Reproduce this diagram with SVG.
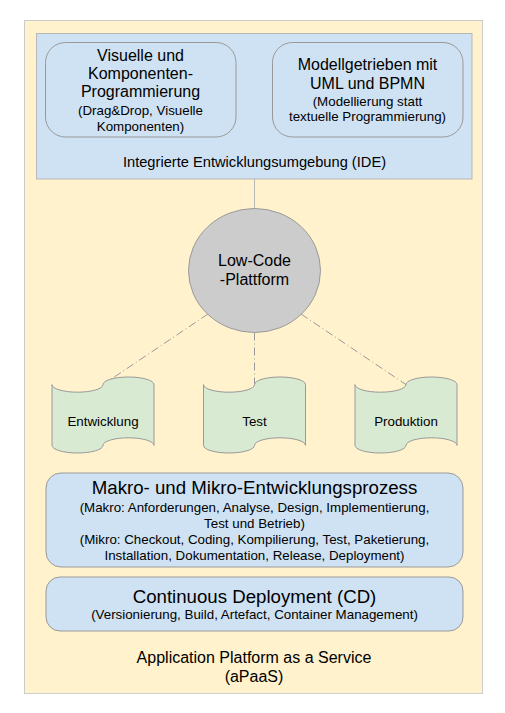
<svg xmlns="http://www.w3.org/2000/svg" width="505" height="713" viewBox="0 0 505 713">
<style>
text{font-family:"Liberation Sans",Arial,sans-serif;fill:#000;text-anchor:middle}
.s16{font-size:16px}
.s13{font-size:13.33px}
.s14{font-size:14.67px}
.s18{font-size:18.67px}
.round{fill:#cfe2f3;stroke:#999999;stroke-width:1}
.doc{fill:#d9ead3;stroke:#999999;stroke-width:1}
.conn{stroke:#999999;stroke-width:1;fill:none;stroke-dasharray:8 3 1 3}
</style>
<rect width="505" height="713" fill="#ffffff"/>
<g id="apaas">
<rect x="24.5" y="20.5" width="458" height="673" fill="#fff2cc" stroke="#cccccc"/>
<text class="s16" x="254" y="663">Application Platform as a Service</text>
<text class="s16" x="254" y="682">(aPaaS)</text>
</g>
<g id="ide">
<rect x="36.5" y="33.5" width="435.5" height="145.5" fill="#cfe2f3" stroke="#b7b7b7"/>
<text class="s14" x="254.5" y="167">Integrierte Entwicklungsumgebung (IDE)</text>
</g>
<g id="visuell">
<rect class="round" x="45.5" y="42.5" width="190.5" height="94.5" rx="20"/>
<text class="s16" x="140.5" y="61">Visuelle und</text>
<text class="s16" x="140.5" y="79">Komponenten-</text>
<text class="s16" x="140.5" y="97">Programmierung</text>
<text class="s13" x="140.5" y="115">(Drag&amp;Drop, Visuelle</text>
<text class="s13" x="140.5" y="131">Komponenten)</text>
</g>
<g id="modell">
<rect class="round" x="272.5" y="42.5" width="190.5" height="94.5" rx="20"/>
<text class="s16" x="367.5" y="70">Modellgetrieben mit</text>
<text class="s16" x="367.5" y="89">UML und BPMN</text>
<text class="s13" x="367.5" y="106">(Modellierung statt</text>
<text class="s13" x="367.5" y="121">textuelle Programmierung)</text>
</g>
<g id="connectors">
<line x1="254.5" y1="179" x2="254.5" y2="208.5" stroke="#b7b7b7" stroke-width="1"/>
<line class="conn" x1="208" y1="314" x2="103" y2="384.6"/>
<line class="conn" x1="254.5" y1="332.5" x2="254.5" y2="384.6"/>
<line class="conn" x1="301" y1="314" x2="406" y2="384.6"/>
</g>
<g id="lowcode">
<ellipse cx="254.5" cy="270.5" rx="66" ry="62" fill="#cccccc" stroke="#999999"/>
<text class="s16" x="254.5" y="266">Low-Code</text>
<text class="s16" x="254.5" y="285">-Plattform</text>
</g>
<g id="entwicklung">
<path class="doc" d="M52,384.6 A25.5,7.6 0 0 0 103,384.6 A25.5,7.6 0 0 1 154,384.6 L154,445.4 A25.5,7.6 0 0 0 103,445.4 A25.5,7.6 0 0 1 52,445.4 Z"/>
<text class="s13" x="103" y="426">Entwicklung</text>
</g>
<g id="test">
<path class="doc" d="M203.5,384.6 A25.5,7.6 0 0 0 254.5,384.6 A25.5,7.6 0 0 1 305.5,384.6 L305.5,445.4 A25.5,7.6 0 0 0 254.5,445.4 A25.5,7.6 0 0 1 203.5,445.4 Z"/>
<text class="s13" x="254.5" y="426">Test</text>
</g>
<g id="produktion">
<path class="doc" d="M355,384.6 A25.5,7.6 0 0 0 406,384.6 A25.5,7.6 0 0 1 457,384.6 L457,445.4 A25.5,7.6 0 0 0 406,445.4 A25.5,7.6 0 0 1 355,445.4 Z"/>
<text class="s13" x="406" y="426">Produktion</text>
</g>
<g id="prozess">
<rect class="round" x="46" y="473" width="417" height="94" rx="15"/>
<text class="s18" x="254.5" y="494">Makro- und Mikro-Entwicklungsprozess</text>
<text class="s13" x="254.5" y="512">(Makro: Anforderungen, Analyse, Design, Implementierung,</text>
<text class="s13" x="254.5" y="528">Test und Betrieb)</text>
<text class="s13" x="254.5" y="544">(Mikro: Checkout, Coding, Kompilierung, Test, Paketierung,</text>
<text class="s13" x="254.5" y="560">Installation, Dokumentation, Release, Deployment)</text>
</g>
<g id="cd">
<rect class="round" x="46" y="577" width="417" height="54" rx="14"/>
<text class="s18" x="254.5" y="603">Continuous Deployment (CD)</text>
<text class="s13" x="254.5" y="619">(Versionierung, Build, Artefact, Container Management)</text>
</g>
</svg>
